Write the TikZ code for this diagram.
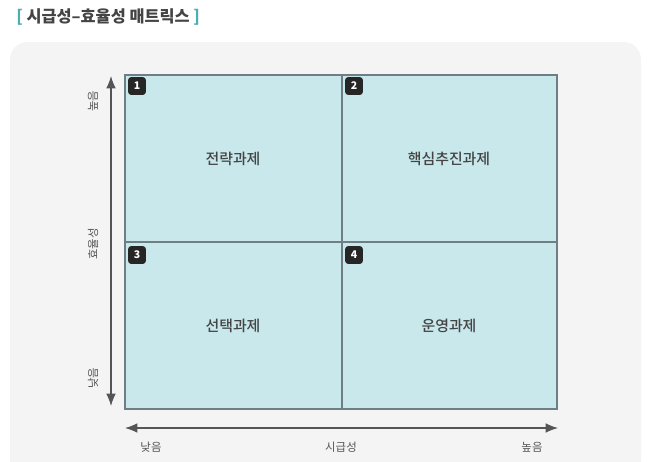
\documentclass[tikz,border=0pt]{standalone}
\usepackage{fontspec}
\newfontfamily\kr{Noto Sans CJK KR}
\newfontfamily\krmed{Noto Sans CJK KR Medium}
\definecolor{cellfill}{HTML}{C8E8EC}
\definecolor{cellline}{HTML}{6E7E84}
\definecolor{panelbg}{HTML}{F4F4F4}
\definecolor{titlegray}{HTML}{444444}
\definecolor{bracketteal}{HTML}{4AAFB0}
\definecolor{axisgray}{HTML}{555555}
\usetikzlibrary{arrows.meta}

\tikzset{
  cell/.style={draw=cellline, line width=0.9pt, fill=cellfill},
  badge/.style={fill=black!85, text=white, rounded corners=1.5pt, inner sep=0pt,
    minimum size=10pt, font=\kr\bfseries\fontsize{6}{6}\selectfont},
  tasklabel/.style={text=titlegray, font=\krmed\fontsize{8.5}{9}\selectfont},
  axislabel/.style={text=axisgray, font=\kr\fontsize{6.5}{7}\selectfont},
  axisline/.style={draw=axisgray, line width=0.7pt, {Latex[length=7pt,width=5.5pt]}-{Latex[length=7pt,width=5.5pt]}}
}

\begin{document}
\begin{tikzpicture}[x=0.02cm,y=-0.02cm]
\useasboundingbox (0,0) rectangle (650,461);
\fill [white] (0,0) rectangle (650,461);
% background panel
\fill [panelbg, rounded corners=10pt] (10,42) rectangle (641,480);
\node [anchor=west, inner sep=0pt, font=\kr\bfseries\fontsize{9.3}{10}\selectfont] (title) at (16,17)
  {\textcolor{bracketteal}{[}\ \textcolor{titlegray}{시급성–효율성 매트릭스}\ \textcolor{bracketteal}{]}};

% four cells
\draw [cell] (125,75) rectangle (342,242);
\draw [cell] (342,75) rectangle (557,242);
\draw [cell] (125,242) rectangle (342,409);
\draw [cell] (342,242) rectangle (557,409);

\node [badge] (b1) at (137,86) {1};
\node [badge] (b2) at (354,86) {2};
\node [badge] (b3) at (137,255) {3};
\node [badge] (b4) at (354,255) {4};

\node [tasklabel] (t1) at (233,159) {전략과제};
\node [tasklabel] (t2) at (449,159) {핵심추진과제};
\node [tasklabel] (t3) at (233,326) {선택과제};
\node [tasklabel] (t4) at (449,326) {운영과제};

% axes
\coordinate (ytop) at (111,76);
\coordinate (ybot) at (111,406);
\draw [axisline] (ytop) -- (ybot);
\node [axislabel, rotate=90] (yhigh) at (93,101) {높음};
\node [axislabel, rotate=90] (yname) at (93,244) {효율성};
\node [axislabel, rotate=90] (ylow) at (93,378) {낮음};

\coordinate (xleft) at (125,428);
\coordinate (xright) at (558,428);
\draw [axisline] (xleft) -- (xright);
\node [axislabel] (xlow) at (151,447) {낮음};
\node [axislabel] (xname) at (341,447) {시급성};
\node [axislabel] (xhigh) at (532,447) {높음};
\end{tikzpicture}
\end{document}
